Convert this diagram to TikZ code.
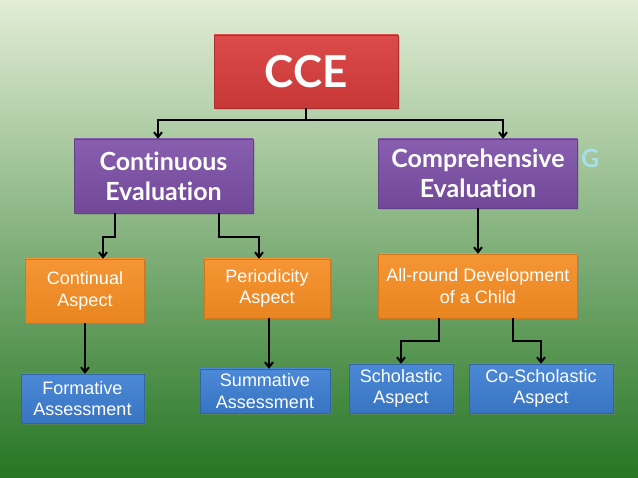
\documentclass[tikz,border=0pt]{standalone}
\usepackage{fontspec}
\setmainfont{Liberation Sans}
\newfontfamily\headfont{Lato}[Ligatures={NoCommon}]
\usetikzlibrary{arrows.meta, positioning, shadows}
\definecolor{BGtop}{RGB}{226,237,214}
\definecolor{BGmid}{RGB}{146,186,108}
\definecolor{BGbot}{RGB}{38,118,36}
\definecolor{CCEred}{RGB}{216,60,58}
\definecolor{CCEpurple}{RGB}{126,80,168}
\definecolor{CCEorange}{RGB}{244,140,34}
\definecolor{CCEblue}{RGB}{60,126,210}
\definecolor{CCEcyan}{RGB}{168,222,236}

\begin{document}
\begin{tikzpicture}[x=1pt, y=-1pt,
    box/.style={rectangle, inner sep=0pt, align=center, text=white,
      drop shadow={shadow xshift=1.5pt, shadow yshift=-2pt, opacity=0.35}},
    redbox/.style={box, top color=CCEred!92!white, bottom color=CCEred!92!black, draw=CCEred!80!black, thin},
    purplebox/.style={box, top color=CCEpurple!92!white, bottom color=CCEpurple!90!black, draw=CCEpurple!80!black, thin},
    orangebox/.style={box, top color=CCEorange!92!white, bottom color=CCEorange!95!black, draw=CCEorange!85!black, thin},
    bluebox/.style={box, top color=CCEblue!92!white, bottom color=CCEblue!92!black, draw=CCEblue!80!black, thin},
    headtext/.style={font=\headfont\bfseries\fontsize{25}{30}\selectfont},
    bodytext/.style={font=\fontsize{18}{21.5}\selectfont},
    arr/.style={-{Straight Barb[length=5pt, width=8pt]}, line width=2pt, black},
    link/.style={line width=2pt, black}]
  % background
  \shade[top color=BGtop, middle color=BGmid, bottom color=BGbot] (0,0) rectangle (638,478);
  \useasboundingbox (0,0) rectangle (638,478);

  % top
  \node[redbox, minimum width=184pt, minimum height=73pt, font=\headfont\bfseries\fontsize{44}{44}\selectfont]
    (cce) at (306,71.5) {CCE};

  % second row
  \node[purplebox, headtext, minimum width=179pt, minimum height=74pt] (cont) at (163.5,176) {Continuous\\Evaluation};
  \node[purplebox, headtext, minimum width=199pt, minimum height=69pt] (comp) at (478,173.5) {Comprehensive\\Evaluation};
  \node[text=CCEcyan, headtext, anchor=west] (gmark) at (comp.east |- 0,158) {G};

  % third row
  \node[orangebox, bodytext, minimum width=119pt, minimum height=64pt] (contasp) at (85,291) {Continual\\Aspect};
  \node[orangebox, bodytext, minimum width=126pt, minimum height=59pt] (period) at (267,288.5) {Periodicity\\Aspect};
  \node[orangebox, bodytext, minimum width=199pt, minimum height=64pt] (allr) at (478,286) {All-round Development\\of a Child};

  % bottom row
  \node[bluebox, bodytext, minimum width=123pt, minimum height=49pt] (form) at (82.5,398.5) {Formative\\Assessment};
  \node[bluebox, bodytext, minimum width=130pt, minimum height=44pt] (summ) at (265,391) {Summative\\Assessment};
  \node[bluebox, bodytext, minimum width=104pt, minimum height=49pt] (schol) at (401,388.5) {Scholastic\\Aspect};
  \node[bluebox, bodytext, minimum width=144pt, minimum height=49pt] (cosch) at (541,388.5) {Co-Scholastic\\Aspect};

  % connectors
  \coordinate (split) at ([yshift=-12pt]cce.south);
  \draw[link] (cce.south) -- (split);
  \draw[arr] (split) -| ([xshift=-5.5pt]cont.north);
  \draw[arr] (split) -| ([xshift=25pt]comp.north);

  \draw[arr] ([xshift=-48.5pt]cont.south) -- ++(0,24) -| ([xshift=18pt]contasp.north);
  \draw[arr] ([xshift=55.5pt]cont.south) -- ++(0,24) -| ([xshift=-8pt]period.north);
  \draw[arr] (comp.south) -- (allr.north);

  \draw[arr] (contasp.south) -- (contasp.south |- form.north);
  \draw[arr] ([xshift=2pt]period.south) -- ([xshift=2pt]period.south |- summ.north);

  \draw[arr] ([xshift=-39pt]allr.south) -- ++(0,23) -| (schol.north);
  \draw[arr] ([xshift=35pt]allr.south) -- ++(0,23) -| (cosch.north);
\end{tikzpicture}
\end{document}
